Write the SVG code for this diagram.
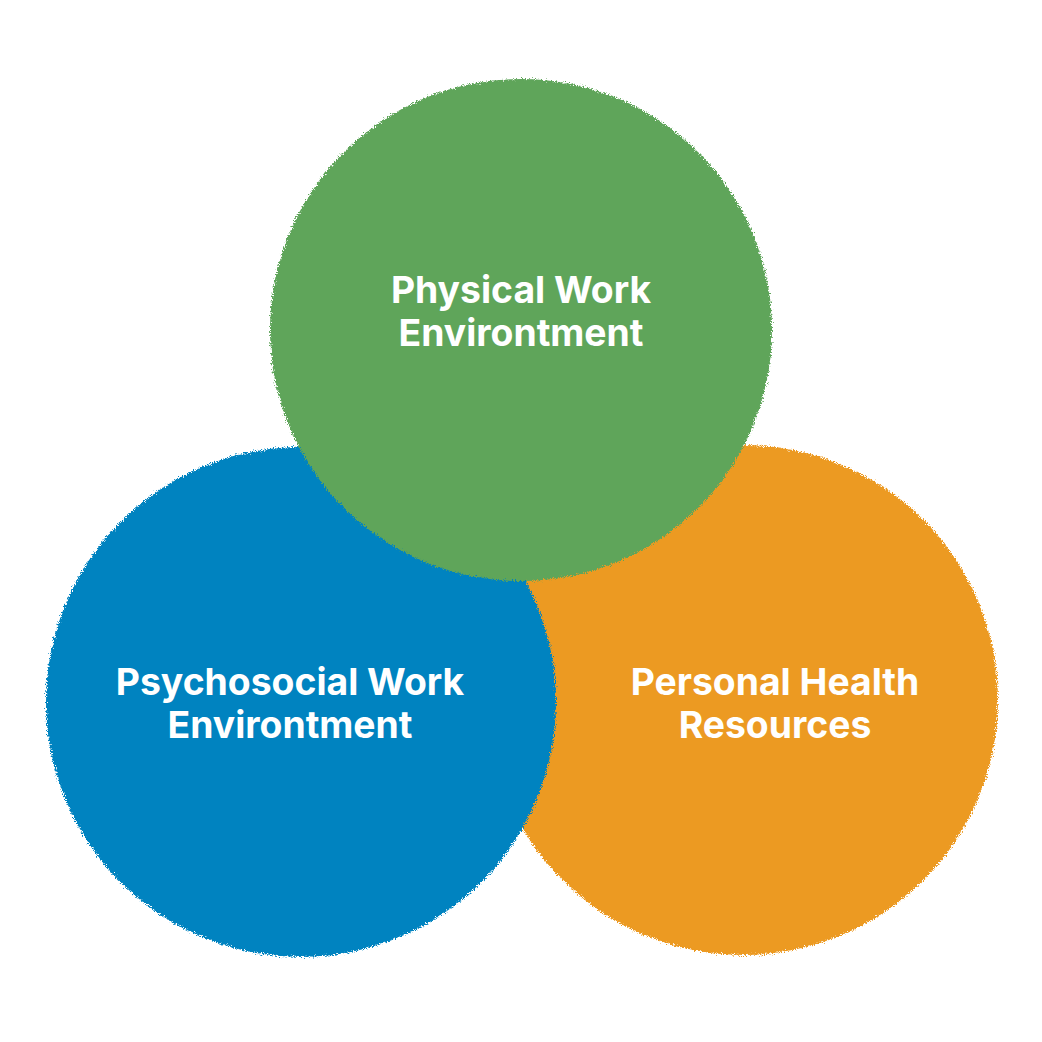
<svg xmlns="http://www.w3.org/2000/svg" width="1042" height="1042" viewBox="0 0 1042 1042">
  <defs>
    <filter id="rough" x="-5%" y="-5%" width="110%" height="110%">
      <feTurbulence type="fractalNoise" baseFrequency="0.9" numOctaves="2" seed="3" result="noise"/>
      <feDisplacementMap in="SourceGraphic" in2="noise" scale="7" xChannelSelector="R" yChannelSelector="G"/>
    </filter>
  </defs>
  <style>
    .lbl { font-family: Inter, "Noto Sans", "Liberation Sans", sans-serif; font-weight: 700; font-size: 37.3px; fill: #ffffff; text-anchor: middle; }
  </style>
  <rect width="1042" height="1042" fill="#ffffff"/>
  <g id="personal-health">
    <circle cx="743" cy="700" r="255" fill="#EC9A23" filter="url(#rough)"/>
  </g>
  <g id="psychosocial">
    <circle cx="301" cy="702" r="255" fill="#0283C0" filter="url(#rough)"/>
  </g>
  <g id="physical">
    <circle cx="521" cy="330" r="251" fill="#5FA55A" filter="url(#rough)"/>
  </g>
  <g id="labels">
    <text class="lbl" x="521" y="303">Physical Work</text>
    <text class="lbl" x="521" y="346">Environtment</text>
    <text class="lbl" x="290" y="695">Psychosocial Work</text>
    <text class="lbl" x="290" y="738">Environtment</text>
    <text class="lbl" x="775" y="695">Personal Health</text>
    <text class="lbl" x="775" y="738">Resources</text>
  </g>
  <g id="connectors"/>
</svg>
